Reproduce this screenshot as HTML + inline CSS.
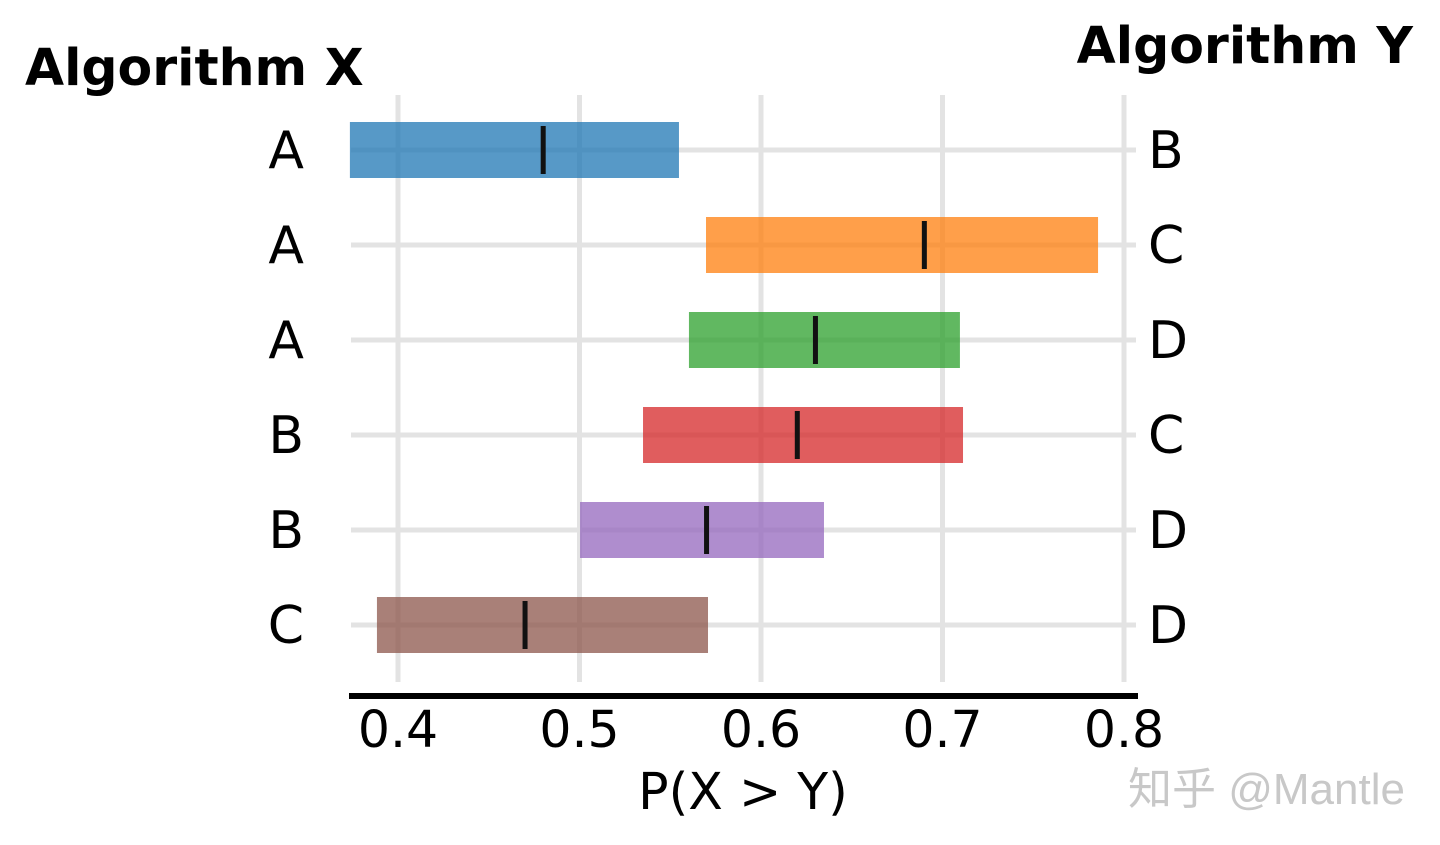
<!DOCTYPE html>
<html><head><meta charset="utf-8">
<style>
body{margin:0;background:#fff;}
svg{display:block;font-family:"DejaVu Sans","Liberation Sans",sans-serif;}
</style></head>
<body>
<svg id="chart" width="1440" height="845" viewBox="0 0 1440 845" xmlns="http://www.w3.org/2000/svg">
<text x="25" y="85" font-size="50.5" font-weight="bold">Algorithm X</text>
<text x="1413" y="63" font-size="50.5" font-weight="bold" text-anchor="end">Algorithm Y</text>
<g id="grid"></g>
<g id="bars"></g>
<line x1="349" y1="696" x2="1138" y2="696" stroke="#000" stroke-width="6"/>
<g id="ticks"></g>
<text x="743" y="809" font-size="50.5" text-anchor="middle">P(X &gt; Y)</text>
<text x="1128" y="804" font-size="44" fill="#c8c8c8" font-family="'Liberation Sans','Noto Sans CJK SC',sans-serif">知乎 @Mantle</text>
</svg>
<script>
const leftLabels=["A","A","A","B","B","C"];
const rightLabels=["B","C","D","C","D","D"];
const lows=[0.3735,0.5697,0.5603,0.535,0.5003,0.3884];
const highs=[0.5548,0.7857,0.7096,0.7113,0.6347,0.5708];
const medians=[0.480,0.690,0.630,0.620,0.570,0.470];
const tickValues=[0.4,0.5,0.6,0.7,0.8];
const tickLabels=["0.4","0.5","0.6","0.7","0.8"];
const colors=["#1f77b4","#ff7f0e","#2ca02c","#d62728","#9467bd","#8c564b"];
const NS="http://www.w3.org/2000/svg";
const x=v=>398+(v-0.4)*1815;
const y=i=>150+i*95;
function mk(t,a,p){const e=document.createElementNS(NS,t);for(const k in a)e.setAttribute(k,a[k]);p.appendChild(e);return e;}
const grid=document.getElementById('grid'),bars=document.getElementById('bars'),ticks=document.getElementById('ticks');
tickValues.forEach((v,i)=>{
 const l=mk('line',{x1:x(v),x2:x(v),y1:95,y2:682,stroke:'#e3e3e3','stroke-width':5},grid);
 
 
 const t=mk('text',{x:x(v),y:747,'font-size':50.5,'text-anchor':'middle'},ticks);
 t.textContent=tickLabels[i];
 
 
});
leftLabels.forEach((lab,i)=>{
 const g=mk('line',{x1:351,x2:1136,y1:y(i),y2:y(i),stroke:'#e3e3e3','stroke-width':5},grid);
 
 
 const r=mk('rect',{x:x(lows[i]),y:y(i)-28,width:x(highs[i])-x(lows[i]),height:56,fill:colors[i],'fill-opacity':0.75},bars);
 
 
 const m=mk('line',{x1:x(medians[i]),x2:x(medians[i]),y1:y(i)-24,y2:y(i)+24,stroke:'#111','stroke-width':5},bars);
 
 
 const tl=mk('text',{x:304,y:y(i)+18,'font-size':52,'text-anchor':'end'},bars);
 tl.textContent=lab;
 
 
 const tr=mk('text',{x:1148,y:y(i)+18,'font-size':52},bars);
 tr.textContent=rightLabels[i];
 
 
});
</script>
</body></html>
